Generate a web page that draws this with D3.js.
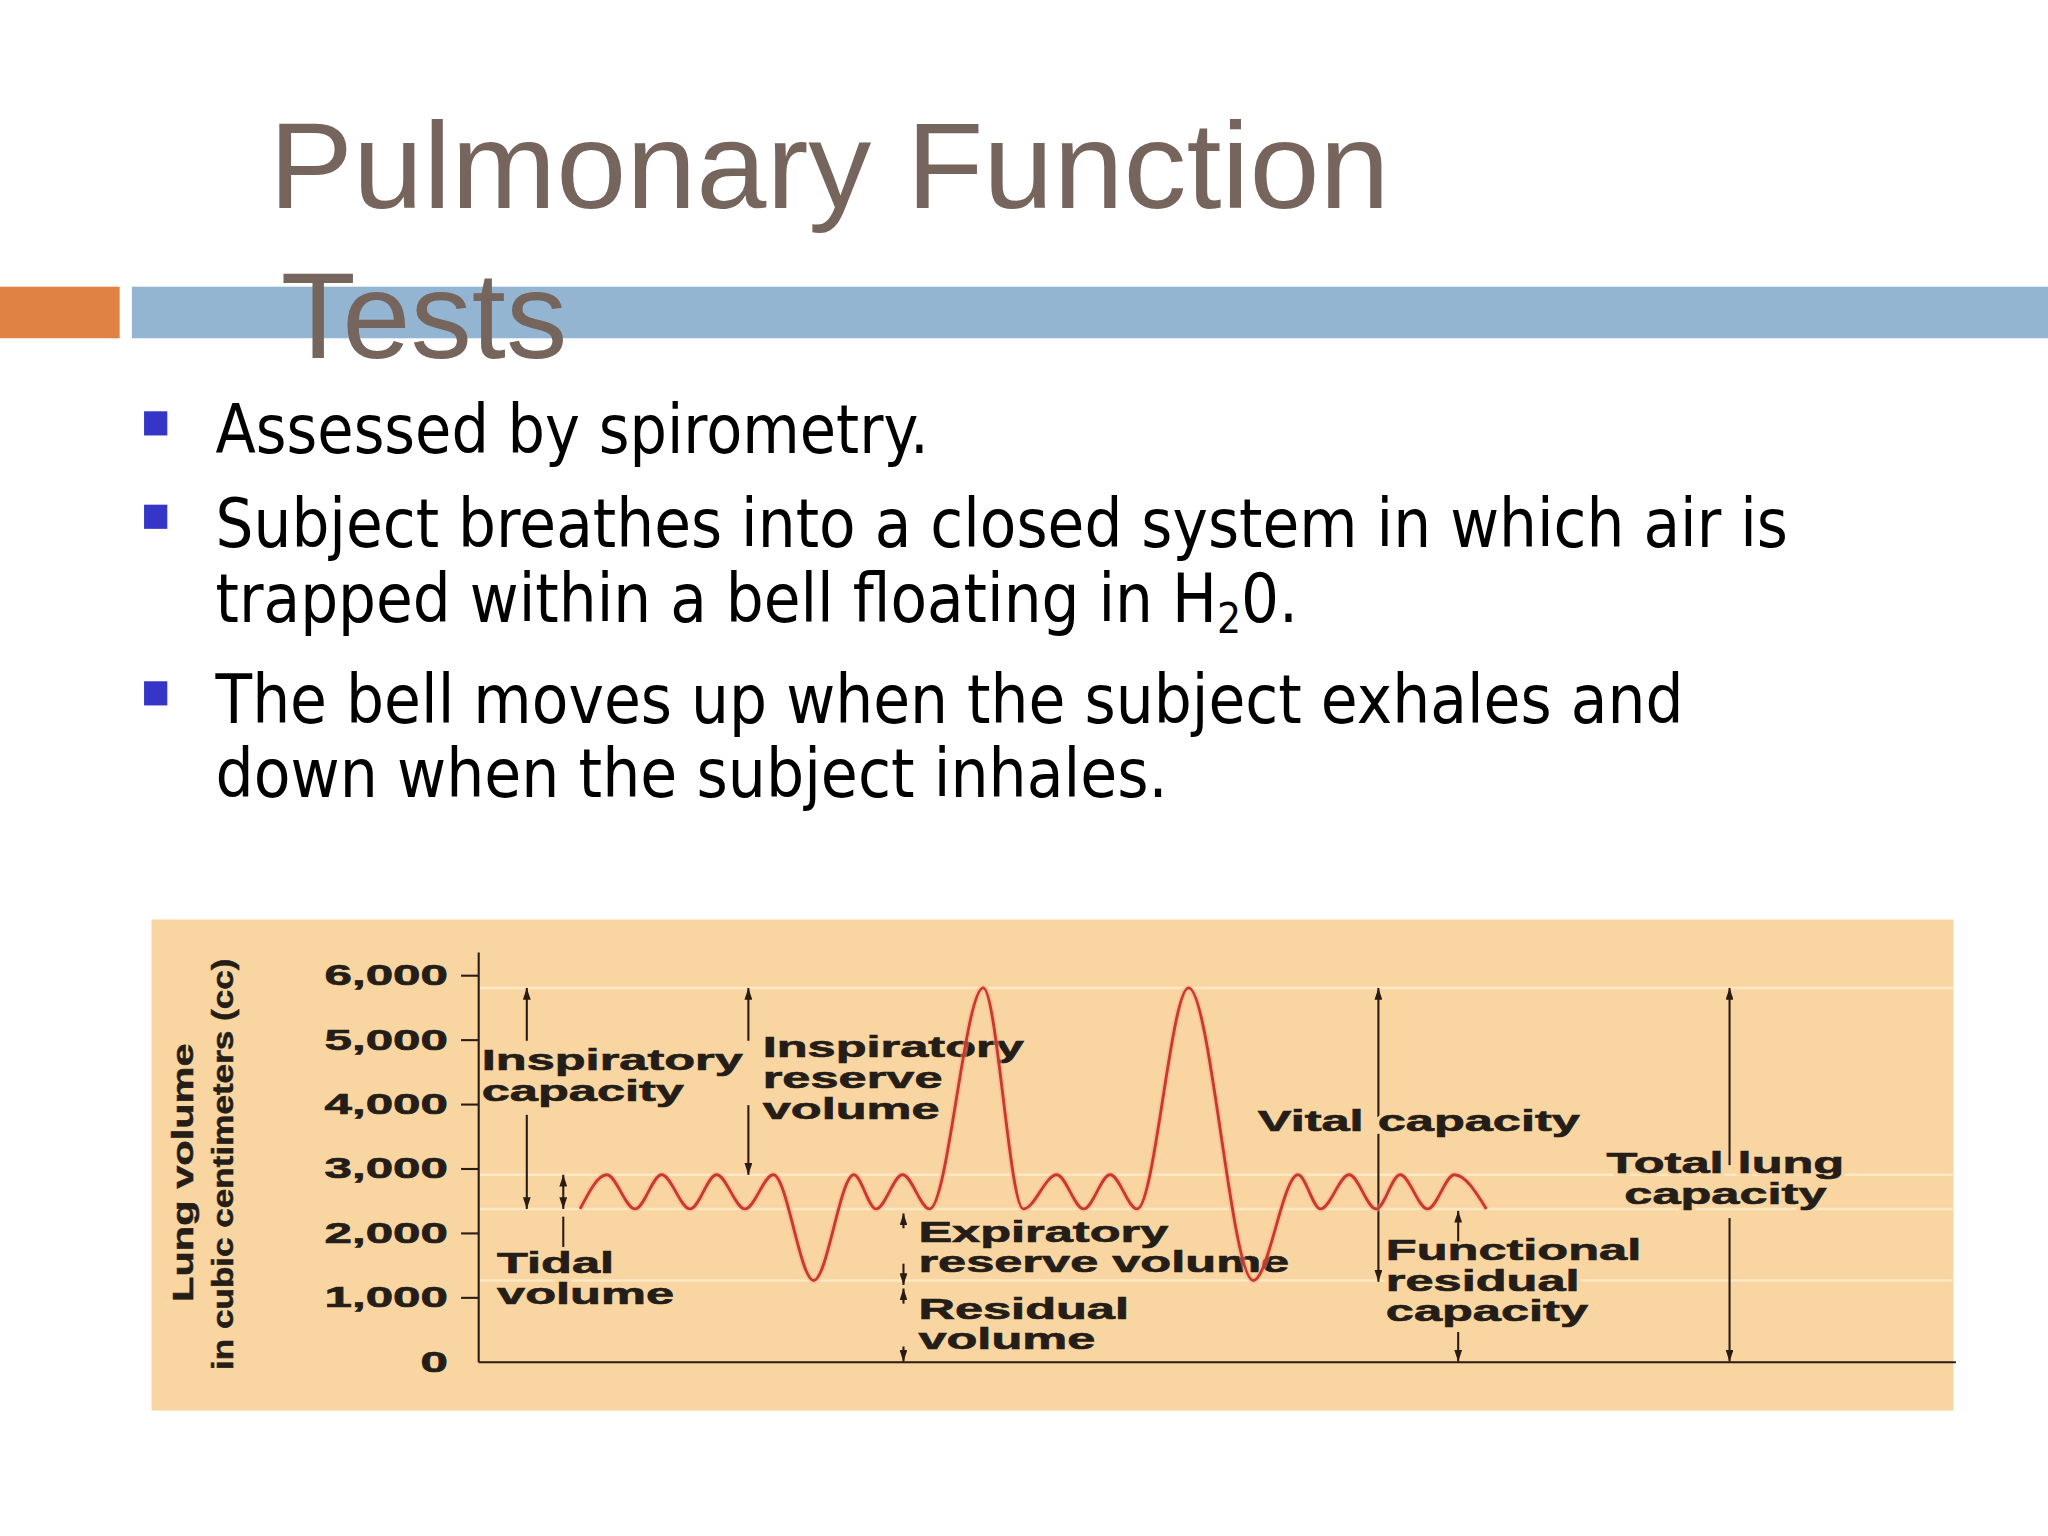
<!DOCTYPE html>
<html>
<head>
<meta charset="utf-8">
<title>Pulmonary Function Tests</title>
<script src="https://cdnjs.cloudflare.com/ajax/libs/d3/7.8.5/d3.min.js"></script>
<style>
body { margin: 0; background: #fff; }
svg { display: block; }
.chart text { font-family: "Liberation Sans", Arial, Helvetica, sans-serif; font-weight: bold; fill: #241d18; }
</style>
</head>
<body>
<svg id="slide" width="2048" height="1536" viewBox="0 0 1568 1176"></svg>
<script>
// slide text
var titleLines = ["Pulmonary Function", "Tests"];
var bulletLines = ["Assessed by spirometry.",
                   "Subject breathes into a closed system in which air is",
                   "trapped within a bell floating in H",
                   "The bell moves up when the subject exhales and",
                   "down when the subject inhales."];
var bulletStarts = [true, true, false, true, false];

// spirogram extremes: relative time (0-100 along the baseline) and lung volume (cc)
var breathTime   = [6.91, 8.71, 10.63, 12.43, 14.35, 16.15, 18.07, 19.99, 22.72, 25.44, 26.94, 28.74, 30.57, 34.20,
                    36.91, 39.17, 41.00, 42.79, 44.62, 48.10, 52.48, 55.51, 57.03, 58.97, 60.80, 62.42, 64.28, 66.10, 68.26];
var breathVolume = [2370, 2900, 2370, 2900, 2370, 2900, 2370, 2900, 1260, 2900, 2370, 2900, 2370, 5800,
                    2370, 2900, 2370, 2900, 2370, 5800, 1260, 2900, 2370, 2900, 2370, 2900, 2370, 2900, 2370];

// faint guide levels (cc)
var levelVolume = [5800, 2900, 2370, 1260];
var tickVolume = [0, 1000, 2000, 3000, 4000, 5000, 6000];

// measurement arrows: IC, TV, IRV, ERV, RV, VC, FRC, TLC
var arrowTime   = [3.30, 5.77, 18.30, 28.80, 28.80, 60.95, 66.35, 84.72];
var arrowTop    = [5800, 2900, 5800, 2300, 1135, 5800, 2340, 5800];
var arrowBottom = [2370, 2370, 2900, 1190, 0, 1240, 0, 0];
var gapTop      = [4980, null, 4980, 2070, 900, 3790, 1855, 3050];
var gapBottom   = [3830, null, 3980, 1520, 235, 3535, 460, 2228];

// leader from the tidal arrow down to its label
var leaderTime = [5.77];
var leaderTop = [2250];
var leaderBottom = [1780];

// annotation labels
var labelText = [["Inspiratory", "capacity"], ["Tidal", "volume"], ["Inspiratory", "reserve", "volume"],
                 ["Vital capacity"], ["Expiratory", "reserve volume"], ["Residual", "volume"],
                 ["Functional", "residual", "capacity"], ["Total lung", "capacity"]];
var labelTime   = [0.25, 1.29, 19.27, 52.79, 29.81, 29.81, 61.45, 84.44];
var labelVolume = [4525, 1368, 4721, 3578, 1863, 667, 1577, 2929];
var labelAnchor = ["start", "start", "start", "start", "start", "start", "start", "middle"];

var svg = d3.select("#slide");
var peach = "#f9d6a1", ink = "#2a1c12", labelInk = "#241d18";
var stretch = 1.72, tickStretch = 1.68;

// header bars
svg.append("rect").attr("x", 0).attr("y", 219.5).attr("width", 91.6).attr("height", 39.5).attr("fill", "#df8244");
svg.append("rect").attr("x", 101).attr("y", 219.5).attr("width", 1467).attr("height", 39.5).attr("fill", "#94b5d1");

// title
var titleX = [206, 215], titleY = [159.5, 274.4];
titleLines.forEach(function (s, i) {
  var t = svg.append("text")
      .attr("x", titleX[i]).attr("y", titleY[i])
      .style("font-family", "'Liberation Sans', Arial, sans-serif")
      .style("font-size", "94px")
      .attr("fill", "#76655c")
      .text(s);
  if (i === 0) t.attr("textLength", 858).attr("lengthAdjust", "spacingAndGlyphs");
});

// bullets
var bulletBase = [347.1, 418.6, 476, 553.8, 610];
var bulletWidth = [546, 1204, 829, 1124, 729];
bulletLines.forEach(function (s, i) {
  if (bulletStarts[i]) {
    svg.append("rect").attr("x", 110.3).attr("y", bulletBase[i] - 32.2)
        .attr("width", 17.8).attr("height", 18.5).attr("fill", "#3535c8");
  }
  var g = svg.append("g").attr("transform", "translate(165," + bulletBase[i] + ")");
  var t = g.append("text")
      .style("font-family", "'DejaVu Sans', Verdana, sans-serif")
      .style("font-size", "52px")
      .attr("fill", "#000");
  t.append("tspan").text(s);
  if (i === 2) {
    t.append("tspan").attr("dy", 9).style("font-size", "33px").text("2");
    t.append("tspan").attr("dy", -9).text("0.");
  }
  var w = t.node().getComputedTextLength();
  t.attr("transform", "scale(" + (bulletWidth[i] / w) + ",1)");
});

// chart panel
var chart = svg.append("g").attr("class", "chart");
chart.append("rect").attr("x", 116).attr("y", 704).attr("width", 1379.6).attr("height", 376).attr("fill", peach);

var x = d3.scaleLinear().domain([0, 100]).range([366, 1497]);
var y = d3.scaleLinear().domain([0, 6360]).range([1042.5, 1042.5 - 6360 * 0.04933]);

chart.selectAll(".level").data(levelVolume).enter().append("line")
    .attr("class", "level")
    .attr("x1", x(0)).attr("x2", 1495)
    .attr("y1", function (d) { return y(d); }).attr("y2", function (d) { return y(d); })
    .attr("stroke", "#fce7c6").attr("stroke-width", 2);

// arrowheads
var defs = svg.append("defs");
defs.append("marker").attr("id", "head")
    .attr("viewBox", "0 0 10 10").attr("refX", 10).attr("refY", 5)
    .attr("markerUnits", "userSpaceOnUse").attr("markerWidth", 9).attr("markerHeight", 6)
    .attr("preserveAspectRatio", "none").attr("orient", "auto-start-reverse")
    .append("path").attr("d", "M0,0L10,5L0,10z").attr("fill", ink);

var arrows = chart.append("g").attr("stroke", ink).attr("stroke-width", 1.6);
arrowTime.forEach(function (t, i) {
  var xx = x(t);
  if (gapTop[i] === null) {
    arrows.append("line").attr("x1", xx).attr("x2", xx)
        .attr("y1", y(arrowTop[i])).attr("y2", y(arrowBottom[i]))
        .attr("marker-start", "url(#head)").attr("marker-end", "url(#head)");
  } else {
    arrows.append("line").attr("x1", xx).attr("x2", xx)
        .attr("y1", y(arrowTop[i])).attr("y2", y(gapTop[i]))
        .attr("marker-start", "url(#head)");
    arrows.append("line").attr("x1", xx).attr("x2", xx)
        .attr("y1", y(gapBottom[i])).attr("y2", y(arrowBottom[i]))
        .attr("marker-end", "url(#head)");
  }
});
leaderTime.forEach(function (t, i) {
  arrows.append("line").attr("x1", x(t)).attr("x2", x(t))
      .attr("y1", y(leaderTop[i])).attr("y2", y(leaderBottom[i]));
});

// labels (the figure's type is very wide, so stretch it); halo first, then heavy text
labelText.forEach(function (lines, i) {
  var g = chart.append("g").attr("transform", "translate(" + x(labelTime[i]) + "," + y(labelVolume[i]) + ")");
  lines.forEach(function (s, j) {
    var tr = "translate(0," + (j * 23.5) + ") scale(" + stretch + ",1)";
    g.append("text").attr("transform", tr).attr("text-anchor", labelAnchor[i])
        .style("font-size", "22.5px").attr("stroke", peach).attr("stroke-width", 4).text(s);
    g.append("text").attr("transform", tr).attr("text-anchor", labelAnchor[i])
        .style("font-size", "22.5px").attr("stroke", labelInk).attr("stroke-width", 0.5).text(s);
  });
});

// y axis title
var yTitle = [["Lung volume", 148, 897.8, 198], ["in cubic centimeters (cc)", 178.7, 891.4, 315]];
yTitle.forEach(function (d) {
  chart.append("text")
      .attr("transform", "translate(" + d[1] + "," + d[2] + ") rotate(-90)")
      .attr("text-anchor", "middle")
      .style("font-size", "22px")
      .attr("stroke", labelInk).attr("stroke-width", 0.4)
      .attr("textLength", d[3]).attr("lengthAdjust", "spacingAndGlyphs")
      .text(d[0]);
});

// axes
var yAxis = chart.append("g").attr("transform", "translate(" + x(0) + ",0)")
    .call(d3.axisLeft(y).tickValues(tickVolume).tickSize(13).tickSizeOuter(0).tickPadding(10)
      .tickFormat(d3.format(",")));
yAxis.selectAll("path, line").attr("stroke", ink).attr("stroke-width", 1.6);
yAxis.selectAll(".tick").filter(function (d) { return d === 0; }).select("line").remove();
yAxis.selectAll("text")
    .attr("x", 0)
    .attr("transform", "translate(-23,0) scale(" + tickStretch + ",1)")
    .style("font-size", "22.5px")
    .style("font-family", "'Liberation Sans', Arial, sans-serif")
    .style("font-weight", "bold")
    .attr("fill", labelInk)
    .attr("stroke", labelInk).attr("stroke-width", 0.5);

var xAxis = chart.append("g").attr("transform", "translate(0," + y(0) + ")")
    .call(d3.axisBottom(x).tickValues([]).tickSizeOuter(0));
xAxis.select("path").attr("stroke", ink).attr("stroke-width", 1.6);

// spirogram trace
var pts = breathTime.map(function (t, i) { return [t, breathVolume[i]]; });
var line = d3.line()
    .x(function (d) { return x(d[0]); })
    .y(function (d) { return y(d[1]); })
    .curve(d3.curveMonotoneX);
chart.append("path").attr("d", line(pts))
    .attr("fill", "none").attr("stroke", "#f2a78f").attr("stroke-width", 4.8).attr("opacity", 0.45);
chart.append("path").attr("d", line(pts))
    .attr("fill", "none").attr("stroke", "#c93a2b").attr("stroke-width", 2.2);
</script>
</body>
</html>
